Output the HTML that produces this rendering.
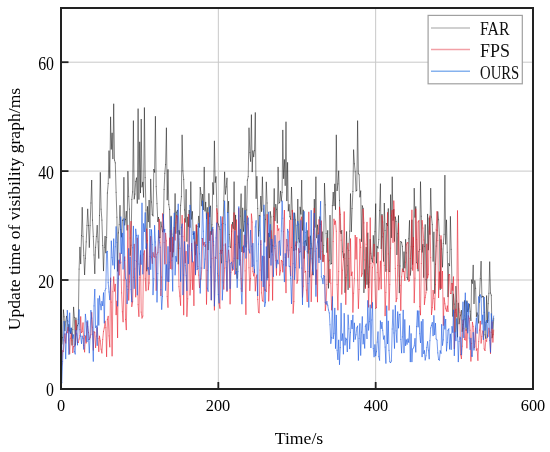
<!DOCTYPE html>
<html><head><meta charset="utf-8"><style>
html,body{margin:0;padding:0;background:#fff;width:550px;height:452px;overflow:hidden}
body{filter:blur(0.35px)}
body{position:relative;font-family:"Liberation Serif","Noto Serif CJK SC",serif;color:#000}
.t{position:absolute;white-space:nowrap;line-height:1}
.yl{font-size:18px;text-align:right;width:30px;transform:scaleX(0.88);transform-origin:100% 0}
.xl{font-size:17.6px;text-align:center;width:60px;transform:scaleX(0.93)}
.lg{font-size:19.5px;transform-origin:0 0;color:#111}
</style></head><body>
<svg width="550" height="452" viewBox="0 0 550 452" style="position:absolute;left:0;top:0">
<line x1="218.33" y1="8" x2="218.33" y2="389" stroke="#c8c8c8" stroke-width="1"/><line x1="375.67" y1="8" x2="375.67" y2="389" stroke="#c8c8c8" stroke-width="1"/><line x1="61" y1="280.00" x2="533" y2="280.00" stroke="#c8c8c8" stroke-width="1"/><line x1="61" y1="171.10" x2="533" y2="171.10" stroke="#c8c8c8" stroke-width="1"/><line x1="61" y1="62.20" x2="533" y2="62.20" stroke="#c8c8c8" stroke-width="1"/>
<g fill="none" stroke-linecap="round" stroke-width="0.85">
<path stroke="#000000" stroke-opacity="0.55" d="M61 320.4L61.8 344.1M62.6 337.6L63.4 310M64.1 316.8L64.9 330.6M65.7 321.9L66.5 316.3M67.3 320.4L68.1 330.9M68.9 324.6L69.7 330.9M70.4 333.3L71.2 328.3M72 345L72.8 329.7M73.6 307.3L74.4 317.6M75.2 345L75.9 318M76.7 330L77.5 325.5M78.3 323.6L79.1 269.1M79.9 247.3L80.7 263.7M81.5 235.6L82.2 207.6M83 236.4L83.8 255.5M84.6 274.6L85.4 258.2M86.2 241.9L87 225.5M87.7 209.2L88.5 225.5M89.3 247.3L90.1 225.5M90.9 203L91.7 180.4M92.5 220.1L93.3 236.4M94 255L94.8 273.5M95.6 247.3L96.4 236.4M97.2 225.5L98 241.9M98.8 258.2L99.5 215.5M100.3 172.7L101.1 209.2M101.9 220.1L102.7 245.4M103.5 270.7L104.3 247.3M105.1 236.4L105.8 252.8M106.6 237.6L107.4 193M108.2 183.6L109 151M109.8 178L110.6 117.2M111.3 149.1L112.1 133.2M112.9 158.7L113.7 104.1M114.5 160.1L115.3 162.9M116.1 192.3L116.9 217.2M117.6 271.1L118.4 232.9M119.2 224.7L120 205.6M120.8 229.5L121.6 236.9M122.4 220.2L123.1 220.2M123.9 177.6L124.7 225M125.5 219.6L126.3 211.5M127.1 230L127.9 171.6M128.7 196.3L129.4 209.1M130.2 255.4L131 245.2M131.8 199.5L132.6 191.9M133.4 121L134.2 198.9M134.9 194.1L135.7 181.6M136.5 178L137.3 203.2M138.1 109L138.9 199.2M139.7 142.2L140.5 192.7M141.2 119.4L142 186.9M142.8 182.3L143.6 197.1M144.4 107.9L145.2 177.7M146 210.1L146.7 270.9M147.5 206.7L148.3 221.7M149.1 200.4L149.9 227.4M150.7 179.3L151.5 202M152.3 214.7L153 215.9M153.8 169.4L154.6 172.2M155.4 116.6L156.2 186.7M157 203.7L157.8 221.5M158.5 217.4L159.3 237.8M160.1 237.5L160.9 222M161.7 226.8L162.5 231.8M163.3 229.9L164.1 189.4M164.8 173.3L165.6 164.4M166.4 128.1L167.2 199.8M168 169.7L168.8 204.5M169.6 209.5L170.3 251.6M171.1 216.2L171.9 234.1M172.7 256.9L173.5 244.9M174.3 227.6L175.1 193.8M175.9 233.3L176.6 212.2M177.4 210.3L178.2 263.9M179 230.6L179.8 234.4M180.6 205.3L181.4 196.7M182.1 135.2L182.9 170.8M183.7 179.6L184.5 209.9M185.3 222.1L186.1 189.6M186.9 241.3L187.7 217.2M188.4 226.4L189.2 210.4M190 227.3L190.8 182M191.6 219.1L192.4 211.7M193.2 234.6L193.9 233.3M194.7 243L195.5 254.8M196.3 225.4L197.1 245.7M197.9 226.6L198.7 216.3M199.5 227.2L200.2 187.4M201 193.9L201.8 205.8M202.6 194.4L203.4 209.6M204.2 167.3L205 211M205.7 202.3L206.5 218.7M207.3 207.7L208.1 249.7M208.9 193.7L209.7 216.7M210.5 206.1L211.3 234.4M212 224.8L212.8 182.8M213.6 194.3L214.4 141.2M215.2 182.4L216 176.8M216.8 206L217.5 222.8M218.3 224.1L219.1 226.5M219.9 229.5L220.7 250.7M221.5 262.9L222.3 250.6M223.1 223.5L223.8 200.8M224.6 172.2L225.4 194.1M226.2 186.9L227 178.2M227.8 212.6L228.6 201.5M229.3 234.5L230.1 247M230.9 247.6L231.7 231.2M232.5 222.5L233.3 228.4M234.1 182L234.9 229.8M235.6 215.3L236.4 269M237.2 278.3L238 235.9M238.8 242.8L239.6 248.2M240.4 216.1L241.1 194M241.9 251.7L242.7 208.2M243.5 231.3L244.3 221.7M245.1 186.2L245.9 247M246.7 210L247.4 180.1M248.2 176.6L249 128.1M249.8 152.4L250.6 161.3M251.4 115L252.2 171.7M252.9 150.9L253.7 156.7M254.5 150.7L255.3 112.8M256.1 198.4L256.9 176.6M257.7 208.6L258.5 236.2M259.2 215.6L260 215.8M260.8 196.4L261.6 211.4M262.4 177.1L263.2 209.1M264 215.1L264.7 242M265.5 219.3L266.3 182.2M267.1 203L267.9 277.7M268.7 233.3L269.5 257.7M270.3 211.7L271 217M271.8 252.2L272.6 245.2M273.4 216.4L274.2 188.8M275 220.7L275.8 204.5M276.5 209.3L277.3 223M278.1 167.3L278.9 203.3M279.7 202.5L280.5 191.3M281.3 201L282.1 192.3M282.8 130.3L283.6 178.4M284.4 159.8L285.2 185.4M286 122.1L286.8 200.7M287.6 162.7L288.3 210.9M289.1 204.6L289.9 216.6M290.7 219.4L291.5 187.4M292.3 211.1L293.1 219.6M293.9 250.6L294.6 213.2M295.4 219.9L296.2 249.9M297 242.2L297.8 199.4M298.6 238.3L299.4 242.2M300.1 207.2L300.9 214.1M301.7 180.4L302.5 230.1M303.3 210.2L304.1 258.2M304.9 241.7L305.7 240.6M306.4 245.4L307.2 230.7M308 253.2L308.8 237.1M309.6 277L310.4 236.1M311.2 243.8L311.9 248.7M312.7 274.7L313.5 229.3M314.3 199.5L315.1 227.2M315.9 177.1L316.7 237.8M317.5 225.1L318.2 233.1M319 257.5L319.8 216.9M320.6 224.3L321.4 241.3M322.2 232L323 261.3M323.7 245.5L324.5 183.5M325.3 204.9L326.1 233.5M326.9 252.3L327.7 230.7M328.5 288L329.3 260.2M330 215.5L330.8 264M331.6 263.6L332.4 205.7M333.2 192.4L334 205.7M334.8 184.2L335.5 209.4M336.3 135.2L337.1 190.6M337.9 183.9L338.7 171.1M339.5 200.3L340.3 231.4M341.1 233.6L341.8 230.5M342.6 251.8L343.4 257.8M344.2 253.8L345 292.4M345.8 277.7L346.6 231.8M347.3 265.8L348.1 289.5M348.9 250.6L349.7 231.1M350.5 193.9L351.3 231.5M352.1 208.5L352.9 191.6M353.6 150L354.4 163.8M355.2 171.8L356 191M356.8 190.3L357.6 121M358.4 173.8L359.1 174.5M359.9 196.9L360.7 191M361.5 241.4L362.3 205.8M363.1 208.5L363.9 292.5M364.7 269.8L365.4 287.3M366.2 247.5L367 284.3M367.8 233.1L368.6 287.7M369.4 267L370.2 239.5M370.9 253.3L371.7 258.4M372.5 262.1L373.3 235.7M374.1 256.2L374.9 231.7M375.7 204L376.5 262.9M377.2 246.5L378 248M378.8 239.6L379.6 210.7M380.4 184L381.2 248.6M382 214.5L382.7 236.9M383.5 261.2L384.3 203.4M385.1 230.5L385.9 271.4M386.7 223.4L387.5 225.7M388.3 208.8L389 271.3M389.8 271.4L390.6 195M391.4 237.5L392.2 177.1M393 220.3L393.8 209.5M394.5 241.2L395.3 217M396.1 221.4L396.9 254.6M397.7 233.8L398.5 215.8M399.3 292.7L400.1 266M400.8 241.4L401.6 242.5M402.4 246.3L403.2 271.6M404 252L404.8 267.9M405.6 239.6L406.3 252.9M407.1 277.5L407.9 279.7M408.7 238.8L409.5 220.7M410.3 275.2L411.1 268.2M411.9 220.1L412.6 264.3M413.4 246.5L414.2 188.5M415 217.2L415.8 206.8M416.6 262.6L417.4 263.7M418.1 270.9L418.9 251.6M419.7 249.5L420.5 182M421.3 216.2L422.1 252.1M422.9 244.5L423.7 277.3M424.4 246.3L425.2 224.8M426 279.4L426.8 290.2M427.6 214.3L428.4 249.8M429.2 218L429.9 234.3M430.7 188.5L431.5 217M432.3 224.7L433.1 261.2M433.9 232.2L434.7 293.3M435.5 264.2L436.2 246.1M437 230.6L437.8 211.9M438.6 219.8L439.4 235.2M440.2 289.5L441 239.8M441.7 249L442.5 266.9M443.3 243.5L444.1 234.3M444.9 175.5L445.7 244M446.5 220.2L447.3 252.3M448 296.7L448.8 263.6M449.6 265.7L450.4 216.7M451.2 249.3L452 283.8M452.8 316.2L453.5 294.2M454.3 304.1L455.1 331.9M455.9 286.5L456.7 301.1M457.5 336.9L458.3 303.2M459.1 323.8L459.8 319M460.6 315.1L461.4 310.5M462.2 331.4L463 324.6M463.8 319.7L464.6 300.7M465.3 319L466.1 330.3M466.9 301L467.7 311.5M468.5 309.1L469.3 304.2M470.1 311.3L470.9 320.6M471.6 280L472.4 283.3M473.2 265.3L474 303.6M474.8 280.8L475.6 288.3M476.4 316.4L477.1 312.9M477.9 315.2L478.7 323M479.5 295.5L480.3 278.5M481.1 261.5L481.9 297.3M482.7 296.3L483.4 296.6M484.2 312.3L485 334.8M485.8 338.5L486.6 295.9M487.4 322.5L488.2 303.7M488.9 293.3L489.7 262M490.5 293L491.3 295.2M492.1 337.8L492.9 334.4"/>
<path stroke="#000000" stroke-opacity="0.55" d="M61.8 344.1L62.6 337.6M63.4 310L64.1 316.8M64.9 330.6L65.7 321.9M66.5 316.3L67.3 320.4M68.1 330.9L68.9 324.6M69.7 330.9L70.4 333.3M71.2 328.3L72 345M72.8 329.7L73.6 307.3M74.4 317.6L75.2 345M75.9 318L76.7 330M77.5 325.5L78.3 323.6M79.1 269.1L79.9 247.3M80.7 263.7L81.5 235.6M82.2 207.6L83 236.4M83.8 255.5L84.6 274.6M85.4 258.2L86.2 241.9M87 225.5L87.7 209.2M88.5 225.5L89.3 247.3M90.1 225.5L90.9 203M91.7 180.4L92.5 220.1M93.3 236.4L94 255M94.8 273.5L95.6 247.3M96.4 236.4L97.2 225.5M98 241.9L98.8 258.2M99.5 215.5L100.3 172.7M101.1 209.2L101.9 220.1M102.7 245.4L103.5 270.7M104.3 247.3L105.1 236.4M105.8 252.8L106.6 237.6M107.4 193L108.2 183.6M109 151L109.8 178M110.6 117.2L111.3 149.1M112.1 133.2L112.9 158.7M113.7 104.1L114.5 160.1M115.3 162.9L116.1 192.3M116.9 217.2L117.6 271.1M118.4 232.9L119.2 224.7M120 205.6L120.8 229.5M121.6 236.9L122.4 220.2M123.1 220.2L123.9 177.6M124.7 225L125.5 219.6M126.3 211.5L127.1 230M127.9 171.6L128.7 196.3M129.4 209.1L130.2 255.4M131 245.2L131.8 199.5M132.6 191.9L133.4 121M134.2 198.9L134.9 194.1M135.7 181.6L136.5 178M137.3 203.2L138.1 109M138.9 199.2L139.7 142.2M140.5 192.7L141.2 119.4M142 186.9L142.8 182.3M143.6 197.1L144.4 107.9M145.2 177.7L146 210.1M146.7 270.9L147.5 206.7M148.3 221.7L149.1 200.4M149.9 227.4L150.7 179.3M151.5 202L152.3 214.7M153 215.9L153.8 169.4M154.6 172.2L155.4 116.6M156.2 186.7L157 203.7M157.8 221.5L158.5 217.4M159.3 237.8L160.1 237.5M160.9 222L161.7 226.8M162.5 231.8L163.3 229.9M164.1 189.4L164.8 173.3M165.6 164.4L166.4 128.1M167.2 199.8L168 169.7M168.8 204.5L169.6 209.5M170.3 251.6L171.1 216.2M171.9 234.1L172.7 256.9M173.5 244.9L174.3 227.6M175.1 193.8L175.9 233.3M176.6 212.2L177.4 210.3M178.2 263.9L179 230.6M179.8 234.4L180.6 205.3M181.4 196.7L182.1 135.2M182.9 170.8L183.7 179.6M184.5 209.9L185.3 222.1M186.1 189.6L186.9 241.3M187.7 217.2L188.4 226.4M189.2 210.4L190 227.3M190.8 182L191.6 219.1M192.4 211.7L193.2 234.6M193.9 233.3L194.7 243M195.5 254.8L196.3 225.4M197.1 245.7L197.9 226.6M198.7 216.3L199.5 227.2M200.2 187.4L201 193.9M201.8 205.8L202.6 194.4M203.4 209.6L204.2 167.3M205 211L205.7 202.3M206.5 218.7L207.3 207.7M208.1 249.7L208.9 193.7M209.7 216.7L210.5 206.1M211.3 234.4L212 224.8M212.8 182.8L213.6 194.3M214.4 141.2L215.2 182.4M216 176.8L216.8 206M217.5 222.8L218.3 224.1M219.1 226.5L219.9 229.5M220.7 250.7L221.5 262.9M222.3 250.6L223.1 223.5M223.8 200.8L224.6 172.2M225.4 194.1L226.2 186.9M227 178.2L227.8 212.6M228.6 201.5L229.3 234.5M230.1 247L230.9 247.6M231.7 231.2L232.5 222.5M233.3 228.4L234.1 182M234.9 229.8L235.6 215.3M236.4 269L237.2 278.3M238 235.9L238.8 242.8M239.6 248.2L240.4 216.1M241.1 194L241.9 251.7M242.7 208.2L243.5 231.3M244.3 221.7L245.1 186.2M245.9 247L246.7 210M247.4 180.1L248.2 176.6M249 128.1L249.8 152.4M250.6 161.3L251.4 115M252.2 171.7L252.9 150.9M253.7 156.7L254.5 150.7M255.3 112.8L256.1 198.4M256.9 176.6L257.7 208.6M258.5 236.2L259.2 215.6M260 215.8L260.8 196.4M261.6 211.4L262.4 177.1M263.2 209.1L264 215.1M264.7 242L265.5 219.3M266.3 182.2L267.1 203M267.9 277.7L268.7 233.3M269.5 257.7L270.3 211.7M271 217L271.8 252.2M272.6 245.2L273.4 216.4M274.2 188.8L275 220.7M275.8 204.5L276.5 209.3M277.3 223L278.1 167.3M278.9 203.3L279.7 202.5M280.5 191.3L281.3 201M282.1 192.3L282.8 130.3M283.6 178.4L284.4 159.8M285.2 185.4L286 122.1M286.8 200.7L287.6 162.7M288.3 210.9L289.1 204.6M289.9 216.6L290.7 219.4M291.5 187.4L292.3 211.1M293.1 219.6L293.9 250.6M294.6 213.2L295.4 219.9M296.2 249.9L297 242.2M297.8 199.4L298.6 238.3M299.4 242.2L300.1 207.2M300.9 214.1L301.7 180.4M302.5 230.1L303.3 210.2M304.1 258.2L304.9 241.7M305.7 240.6L306.4 245.4M307.2 230.7L308 253.2M308.8 237.1L309.6 277M310.4 236.1L311.2 243.8M311.9 248.7L312.7 274.7M313.5 229.3L314.3 199.5M315.1 227.2L315.9 177.1M316.7 237.8L317.5 225.1M318.2 233.1L319 257.5M319.8 216.9L320.6 224.3M321.4 241.3L322.2 232M323 261.3L323.7 245.5M324.5 183.5L325.3 204.9M326.1 233.5L326.9 252.3M327.7 230.7L328.5 288M329.3 260.2L330 215.5M330.8 264L331.6 263.6M332.4 205.7L333.2 192.4M334 205.7L334.8 184.2M335.5 209.4L336.3 135.2M337.1 190.6L337.9 183.9M338.7 171.1L339.5 200.3M340.3 231.4L341.1 233.6M341.8 230.5L342.6 251.8M343.4 257.8L344.2 253.8M345 292.4L345.8 277.7M346.6 231.8L347.3 265.8M348.1 289.5L348.9 250.6M349.7 231.1L350.5 193.9M351.3 231.5L352.1 208.5M352.9 191.6L353.6 150M354.4 163.8L355.2 171.8M356 191L356.8 190.3M357.6 121L358.4 173.8M359.1 174.5L359.9 196.9M360.7 191L361.5 241.4M362.3 205.8L363.1 208.5M363.9 292.5L364.7 269.8M365.4 287.3L366.2 247.5M367 284.3L367.8 233.1M368.6 287.7L369.4 267M370.2 239.5L370.9 253.3M371.7 258.4L372.5 262.1M373.3 235.7L374.1 256.2M374.9 231.7L375.7 204M376.5 262.9L377.2 246.5M378 248L378.8 239.6M379.6 210.7L380.4 184M381.2 248.6L382 214.5M382.7 236.9L383.5 261.2M384.3 203.4L385.1 230.5M385.9 271.4L386.7 223.4M387.5 225.7L388.3 208.8M389 271.3L389.8 271.4M390.6 195L391.4 237.5M392.2 177.1L393 220.3M393.8 209.5L394.5 241.2M395.3 217L396.1 221.4M396.9 254.6L397.7 233.8M398.5 215.8L399.3 292.7M400.1 266L400.8 241.4M401.6 242.5L402.4 246.3M403.2 271.6L404 252M404.8 267.9L405.6 239.6M406.3 252.9L407.1 277.5M407.9 279.7L408.7 238.8M409.5 220.7L410.3 275.2M411.1 268.2L411.9 220.1M412.6 264.3L413.4 246.5M414.2 188.5L415 217.2M415.8 206.8L416.6 262.6M417.4 263.7L418.1 270.9M418.9 251.6L419.7 249.5M420.5 182L421.3 216.2M422.1 252.1L422.9 244.5M423.7 277.3L424.4 246.3M425.2 224.8L426 279.4M426.8 290.2L427.6 214.3M428.4 249.8L429.2 218M429.9 234.3L430.7 188.5M431.5 217L432.3 224.7M433.1 261.2L433.9 232.2M434.7 293.3L435.5 264.2M436.2 246.1L437 230.6M437.8 211.9L438.6 219.8M439.4 235.2L440.2 289.5M441 239.8L441.7 249M442.5 266.9L443.3 243.5M444.1 234.3L444.9 175.5M445.7 244L446.5 220.2M447.3 252.3L448 296.7M448.8 263.6L449.6 265.7M450.4 216.7L451.2 249.3M452 283.8L452.8 316.2M453.5 294.2L454.3 304.1M455.1 331.9L455.9 286.5M456.7 301.1L457.5 336.9M458.3 303.2L459.1 323.8M459.8 319L460.6 315.1M461.4 310.5L462.2 331.4M463 324.6L463.8 319.7M464.6 300.7L465.3 319M466.1 330.3L466.9 301M467.7 311.5L468.5 309.1M469.3 304.2L470.1 311.3M470.9 320.6L471.6 280M472.4 283.3L473.2 265.3M474 303.6L474.8 280.8M475.6 288.3L476.4 316.4M477.1 312.9L477.9 315.2M478.7 323L479.5 295.5M480.3 278.5L481.1 261.5M481.9 297.3L482.7 296.3M483.4 296.6L484.2 312.3M485 334.8L485.8 338.5M486.6 295.9L487.4 322.5M488.2 303.7L488.9 293.3M489.7 262L490.5 293M491.3 295.2L492.1 337.8M492.9 334.4L493.7 318.2"/>
<path stroke="#e81a28" stroke-opacity="0.66" d="M61 372.6L61.8 363.9M62.6 350.8L63.4 351.5M64.1 340.9L64.9 333.9M65.7 343L66.5 331.9M67.3 332.8L68.1 327.4M68.9 340L69.7 353.8M70.4 338.4L71.2 333.1M72 340.8L72.8 352.6M73.6 346.5L74.4 346.2M75.2 343.8L75.9 320.5M76.7 333.6L77.5 342.4M78.3 342.5L79.1 339.1M79.9 335.5L80.7 316.8M81.5 332.6L82.2 331.9M83 322.9L83.8 345.5M84.6 351.9L85.4 336M86.2 343L87 322.2M87.7 326.7L88.5 332.4M89.3 339.6L90.1 337.6M90.9 334.4L91.7 312.6M92.5 327.2L93.3 350.1M94 331.5L94.8 332.6M95.6 347.6L96.4 336.1M97.2 327.8L98 338.4M98.8 351.5L99.5 336.2M100.3 340.9L101.1 349.2M101.9 353L102.7 339.6M103.5 331.5L104.3 327.9M105.1 321.2L105.8 327.7M106.6 356.5L107.4 319.5M108.2 316.3L109 335.9M109.8 346.9L110.6 278.1M111.3 302.1L112.1 355.9M112.9 291.7L113.7 276.9M114.5 291.1L115.3 284.3M116.1 314.7L116.9 301.2M117.6 337.6L118.4 260.6M119.2 275L120 253.2M120.8 262.3L121.6 292.9M122.4 311.8L123.1 321.8M123.9 280.2L124.7 256.9M125.5 319.4L126.3 329.7M127.1 286.3L127.9 225.3M128.7 300.1L129.4 281.9M130.2 238L131 221.5M131.8 306.5L132.6 301.8M133.4 277.2L134.2 244.3M134.9 268.9L135.7 296.9M136.5 261.3L137.3 238.2M138.1 304.7L138.9 316.4M139.7 277.7L140.5 255.1M141.2 312.1L142 318.1M142.8 316.1L143.6 254.1M144.4 250.8L145.2 278.3M146 290.8L146.7 229.1M147.5 240.7L148.3 289.8M149.1 283L149.9 256.4M150.7 236.5L151.5 257.2M152.3 263.4L153 252.6M153.8 256.3L154.6 257.3M155.4 247L156.2 290.4M157 254.2L157.8 252.5M158.5 236.8L159.3 219.3M160.1 242.7L160.9 295.6M161.7 277.1L162.5 213.8M163.3 218.8L164.1 242.4M164.8 263.9L165.6 233.3M166.4 240.9L167.2 296.6M168 307.3L168.8 269M169.6 238.1L170.3 268.6M171.1 230.3L171.9 269.1M172.7 237.3L173.5 251.9M174.3 227.8L175.1 240M175.9 222.9L176.6 215.5M177.4 216.4L178.2 248.3M179 286.7L179.8 296.1M180.6 305.3L181.4 236.7M182.1 215.5L182.9 236.7M183.7 314.8L184.5 218.8M185.3 262.8L186.1 251.5M186.9 316.4L187.7 298.8M188.4 214.5L189.2 216.1M190 295L190.8 280.5M191.6 243.4L192.4 289.5M193.2 261.9L193.9 305.5M194.7 241.9L195.5 274.8M196.3 224.7L197.1 247.8M197.9 266.5L198.7 275.1M199.5 287.6L200.2 279.3M201 279.1L201.8 268.1M202.6 238.4L203.4 245M204.2 242.4L205 246.6M205.7 244.8L206.5 304.2M207.3 270.3L208.1 212.8M208.9 223.2L209.7 240.5M210.5 231.6L211.3 299.8M212 258.7L212.8 229.5M213.6 245.2L214.4 310M215.2 257.2L216 258.3M216.8 208.7L217.5 213.5M218.3 275.8L219.1 303.3M219.9 308.3L220.7 250.2M221.5 253.5L222.3 217M223.1 281.1L223.8 289.1M224.6 268.1L225.4 243.9M226.2 267.8L227 291.4M227.8 262L228.6 250.2M229.3 260.9L230.1 303.9M230.9 272.4L231.7 224.7M232.5 270.3L233.3 261M234.1 212.9L234.9 274.4M235.6 244.5L236.4 220M237.2 258.6L238 258.8M238.8 208.6L239.6 246.2M240.4 260.1L241.1 278.6M241.9 291.5L242.7 247.1M243.5 252.5L244.3 235.2M245.1 270.9L245.9 314.4M246.7 241.8L247.4 216.1M248.2 224.2L249 267.8M249.8 290.5L250.6 278.5M251.4 214L252.2 222.1M252.9 271.5L253.7 275.9M254.5 269.6L255.3 290.9M256.1 277.9L256.9 275M257.7 299.4L258.5 312.3M259.2 312.8L260 270.1M260.8 240.6L261.6 292.9M262.4 300.7L263.2 301.5M264 256.6L264.7 290.2M265.5 289.9L266.3 291.5M267.1 214.6L267.9 240.1M268.7 301L269.5 285.1M270.3 244.2L271 230.7M271.8 241.9L272.6 300.1M273.4 245.8L274.2 207.8M275 248.4L275.8 260.7M276.5 275.1L277.3 225.3M278.1 230.4L278.9 228.9M279.7 275.2L280.5 270.7M281.3 260.3L282.1 261.2M282.8 271.9L283.6 231.5M284.4 210.4L285.2 257.5M286 292.7L286.8 239.4M287.6 245.8L288.3 257.4M289.1 250.1L289.9 220.3M290.7 275.7L291.5 247.4M292.3 210.3L293.1 313.2M293.9 301.6L294.6 249M295.4 245.6L296.2 241.7M297 283.3L297.8 280.4M298.6 248.6L299.4 252.4M300.1 251.9L300.9 219.8M301.7 217.1L302.5 297.1M303.3 286.2L304.1 246.4M304.9 272.1L305.7 271.3M306.4 290.1L307.2 301.6M308 271.5L308.8 212.2M309.6 249.2L310.4 248.5M311.2 301.5L311.9 275M312.7 263.2L313.5 233.6M314.3 208.4L315.1 239.8M315.9 284.4L316.7 270M317.5 301.8L318.2 233.8M319 219.7L319.8 229.2M320.6 259.4L321.4 221M322.2 251.5L323 261.7M323.7 254.9L324.5 255.6M325.3 310.6L326.1 303.5M326.9 284.5L327.7 238.3M328.5 261.3L329.3 282.5M330 269.3L330.8 283.2M331.6 309.9L332.4 300.1M333.2 241.5L334 219.2M334.8 224.4L335.5 221.1M336.3 231.2L337.1 284.7M337.9 309.9L338.7 271.6M339.5 207.2L340.3 214.4M341.1 240.2L341.8 294.1M342.6 270.2L343.4 259.8M344.2 211.9L345 258.3M345.8 304.4L346.6 275M347.3 248.2L348.1 243.3M348.9 258.7L349.7 287.4M350.5 238.9L351.3 275.6M352.1 272.1L352.9 312.2M353.6 293.2L354.4 278.2M355.2 235.4L356 259M356.8 237.5L357.6 280.1M358.4 308.4L359.1 289.5M359.9 239.2L360.7 247.3M361.5 276.4L362.3 273.8M363.1 209.2L363.9 222.9M364.7 259.9L365.4 288.5M366.2 244.2L367 222.3M367.8 273.9L368.6 307M369.4 282.2L370.2 218M370.9 263.5L371.7 307.9M372.5 267.7L373.3 262.7M374.1 244.4L374.9 279.5M375.7 308.5L376.5 307.4M377.2 272.5L378 252.5M378.8 289.8L379.6 278.1M380.4 261.2L381.2 288.8M382 215.8L382.7 222M383.5 233.8L384.3 265.4M385.1 315.7L385.9 292.4M386.7 269.7L387.5 212.7M388.3 253.9L389 310.1M389.8 284.6L390.6 248.2M391.4 215.8L392.2 210.3M393 242.4L393.8 201M394.5 217.7L395.3 268.5M396.1 301.7L396.9 298.4M397.7 265.6L398.5 223.3M399.3 276.1L400.1 285.4M400.8 310.4L401.6 276.9M402.4 269L403.2 271.6M404 271.6L404.8 280.5M405.6 262.2L406.3 245M407.1 242.8L407.9 242.8M408.7 281.2L409.5 280.8M410.3 258.5L411.1 246.8M411.9 210.2L412.6 270.2M413.4 237.5L414.2 302.7M415 278.2L415.8 209.1M416.6 239.6L417.4 268.5M418.1 221.9L418.9 220.6M419.7 306.7L420.5 314.8M421.3 263.4L422.1 220.5M422.9 228.1L423.7 240M424.4 304.5L425.2 297.6M426 292.7L426.8 244.2M427.6 278L428.4 274.3M429.2 231.3L429.9 216M430.7 257.7L431.5 314.5M432.3 307.6L433.1 290.4M433.9 298.4L434.7 309.9M435.5 284.5L436.2 229.8M437 211.6L437.8 240.5M438.6 297.6L439.4 272M440.2 287.9L441 235.8M441.7 288.4L442.5 271.4M443.3 325.3L444.1 297.8M444.9 303.8L445.7 308.8M446.5 311.2L447.3 306M448 311.6L448.8 274.9M449.6 274.5L450.4 293.5M451.2 293.4L452 283.4M452.8 290.3L453.5 276.9M454.3 348.6L455.1 312.4M455.9 309.2L456.7 316.8M457.5 210.8L458.3 280M459.1 308.9L459.8 312.3M460.6 354.7L461.4 358.6M462.2 346.2L463 320.3M463.8 328.4L464.6 339.5M465.3 340L466.1 330M466.9 347.9L467.7 328.4M468.5 315.8L469.3 318.5M470.1 330.3L470.9 361.1M471.6 343.4L472.4 322.3M473.2 326.5L474 347.9M474.8 347.1L475.6 327.9M476.4 350.3L477.1 348.8M477.9 360.4L478.7 341.6M479.5 330.1L480.3 321.3M481.1 343.1L481.9 336.5M482.7 331L483.4 331.7M484.2 349L485 350.6M485.8 339.9L486.6 341.3M487.4 335.1L488.2 336.2M488.9 328.2L489.7 331.8M490.5 353.4L491.3 332.4M492.1 321.9L492.9 342.1"/>
<path stroke="#e81a28" stroke-opacity="0.66" d="M61.8 363.9L62.6 350.8M63.4 351.5L64.1 340.9M64.9 333.9L65.7 343M66.5 331.9L67.3 332.8M68.1 327.4L68.9 340M69.7 353.8L70.4 338.4M71.2 333.1L72 340.8M72.8 352.6L73.6 346.5M74.4 346.2L75.2 343.8M75.9 320.5L76.7 333.6M77.5 342.4L78.3 342.5M79.1 339.1L79.9 335.5M80.7 316.8L81.5 332.6M82.2 331.9L83 322.9M83.8 345.5L84.6 351.9M85.4 336L86.2 343M87 322.2L87.7 326.7M88.5 332.4L89.3 339.6M90.1 337.6L90.9 334.4M91.7 312.6L92.5 327.2M93.3 350.1L94 331.5M94.8 332.6L95.6 347.6M96.4 336.1L97.2 327.8M98 338.4L98.8 351.5M99.5 336.2L100.3 340.9M101.1 349.2L101.9 353M102.7 339.6L103.5 331.5M104.3 327.9L105.1 321.2M105.8 327.7L106.6 356.5M107.4 319.5L108.2 316.3M109 335.9L109.8 346.9M110.6 278.1L111.3 302.1M112.1 355.9L112.9 291.7M113.7 276.9L114.5 291.1M115.3 284.3L116.1 314.7M116.9 301.2L117.6 337.6M118.4 260.6L119.2 275M120 253.2L120.8 262.3M121.6 292.9L122.4 311.8M123.1 321.8L123.9 280.2M124.7 256.9L125.5 319.4M126.3 329.7L127.1 286.3M127.9 225.3L128.7 300.1M129.4 281.9L130.2 238M131 221.5L131.8 306.5M132.6 301.8L133.4 277.2M134.2 244.3L134.9 268.9M135.7 296.9L136.5 261.3M137.3 238.2L138.1 304.7M138.9 316.4L139.7 277.7M140.5 255.1L141.2 312.1M142 318.1L142.8 316.1M143.6 254.1L144.4 250.8M145.2 278.3L146 290.8M146.7 229.1L147.5 240.7M148.3 289.8L149.1 283M149.9 256.4L150.7 236.5M151.5 257.2L152.3 263.4M153 252.6L153.8 256.3M154.6 257.3L155.4 247M156.2 290.4L157 254.2M157.8 252.5L158.5 236.8M159.3 219.3L160.1 242.7M160.9 295.6L161.7 277.1M162.5 213.8L163.3 218.8M164.1 242.4L164.8 263.9M165.6 233.3L166.4 240.9M167.2 296.6L168 307.3M168.8 269L169.6 238.1M170.3 268.6L171.1 230.3M171.9 269.1L172.7 237.3M173.5 251.9L174.3 227.8M175.1 240L175.9 222.9M176.6 215.5L177.4 216.4M178.2 248.3L179 286.7M179.8 296.1L180.6 305.3M181.4 236.7L182.1 215.5M182.9 236.7L183.7 314.8M184.5 218.8L185.3 262.8M186.1 251.5L186.9 316.4M187.7 298.8L188.4 214.5M189.2 216.1L190 295M190.8 280.5L191.6 243.4M192.4 289.5L193.2 261.9M193.9 305.5L194.7 241.9M195.5 274.8L196.3 224.7M197.1 247.8L197.9 266.5M198.7 275.1L199.5 287.6M200.2 279.3L201 279.1M201.8 268.1L202.6 238.4M203.4 245L204.2 242.4M205 246.6L205.7 244.8M206.5 304.2L207.3 270.3M208.1 212.8L208.9 223.2M209.7 240.5L210.5 231.6M211.3 299.8L212 258.7M212.8 229.5L213.6 245.2M214.4 310L215.2 257.2M216 258.3L216.8 208.7M217.5 213.5L218.3 275.8M219.1 303.3L219.9 308.3M220.7 250.2L221.5 253.5M222.3 217L223.1 281.1M223.8 289.1L224.6 268.1M225.4 243.9L226.2 267.8M227 291.4L227.8 262M228.6 250.2L229.3 260.9M230.1 303.9L230.9 272.4M231.7 224.7L232.5 270.3M233.3 261L234.1 212.9M234.9 274.4L235.6 244.5M236.4 220L237.2 258.6M238 258.8L238.8 208.6M239.6 246.2L240.4 260.1M241.1 278.6L241.9 291.5M242.7 247.1L243.5 252.5M244.3 235.2L245.1 270.9M245.9 314.4L246.7 241.8M247.4 216.1L248.2 224.2M249 267.8L249.8 290.5M250.6 278.5L251.4 214M252.2 222.1L252.9 271.5M253.7 275.9L254.5 269.6M255.3 290.9L256.1 277.9M256.9 275L257.7 299.4M258.5 312.3L259.2 312.8M260 270.1L260.8 240.6M261.6 292.9L262.4 300.7M263.2 301.5L264 256.6M264.7 290.2L265.5 289.9M266.3 291.5L267.1 214.6M267.9 240.1L268.7 301M269.5 285.1L270.3 244.2M271 230.7L271.8 241.9M272.6 300.1L273.4 245.8M274.2 207.8L275 248.4M275.8 260.7L276.5 275.1M277.3 225.3L278.1 230.4M278.9 228.9L279.7 275.2M280.5 270.7L281.3 260.3M282.1 261.2L282.8 271.9M283.6 231.5L284.4 210.4M285.2 257.5L286 292.7M286.8 239.4L287.6 245.8M288.3 257.4L289.1 250.1M289.9 220.3L290.7 275.7M291.5 247.4L292.3 210.3M293.1 313.2L293.9 301.6M294.6 249L295.4 245.6M296.2 241.7L297 283.3M297.8 280.4L298.6 248.6M299.4 252.4L300.1 251.9M300.9 219.8L301.7 217.1M302.5 297.1L303.3 286.2M304.1 246.4L304.9 272.1M305.7 271.3L306.4 290.1M307.2 301.6L308 271.5M308.8 212.2L309.6 249.2M310.4 248.5L311.2 301.5M311.9 275L312.7 263.2M313.5 233.6L314.3 208.4M315.1 239.8L315.9 284.4M316.7 270L317.5 301.8M318.2 233.8L319 219.7M319.8 229.2L320.6 259.4M321.4 221L322.2 251.5M323 261.7L323.7 254.9M324.5 255.6L325.3 310.6M326.1 303.5L326.9 284.5M327.7 238.3L328.5 261.3M329.3 282.5L330 269.3M330.8 283.2L331.6 309.9M332.4 300.1L333.2 241.5M334 219.2L334.8 224.4M335.5 221.1L336.3 231.2M337.1 284.7L337.9 309.9M338.7 271.6L339.5 207.2M340.3 214.4L341.1 240.2M341.8 294.1L342.6 270.2M343.4 259.8L344.2 211.9M345 258.3L345.8 304.4M346.6 275L347.3 248.2M348.1 243.3L348.9 258.7M349.7 287.4L350.5 238.9M351.3 275.6L352.1 272.1M352.9 312.2L353.6 293.2M354.4 278.2L355.2 235.4M356 259L356.8 237.5M357.6 280.1L358.4 308.4M359.1 289.5L359.9 239.2M360.7 247.3L361.5 276.4M362.3 273.8L363.1 209.2M363.9 222.9L364.7 259.9M365.4 288.5L366.2 244.2M367 222.3L367.8 273.9M368.6 307L369.4 282.2M370.2 218L370.9 263.5M371.7 307.9L372.5 267.7M373.3 262.7L374.1 244.4M374.9 279.5L375.7 308.5M376.5 307.4L377.2 272.5M378 252.5L378.8 289.8M379.6 278.1L380.4 261.2M381.2 288.8L382 215.8M382.7 222L383.5 233.8M384.3 265.4L385.1 315.7M385.9 292.4L386.7 269.7M387.5 212.7L388.3 253.9M389 310.1L389.8 284.6M390.6 248.2L391.4 215.8M392.2 210.3L393 242.4M393.8 201L394.5 217.7M395.3 268.5L396.1 301.7M396.9 298.4L397.7 265.6M398.5 223.3L399.3 276.1M400.1 285.4L400.8 310.4M401.6 276.9L402.4 269M403.2 271.6L404 271.6M404.8 280.5L405.6 262.2M406.3 245L407.1 242.8M407.9 242.8L408.7 281.2M409.5 280.8L410.3 258.5M411.1 246.8L411.9 210.2M412.6 270.2L413.4 237.5M414.2 302.7L415 278.2M415.8 209.1L416.6 239.6M417.4 268.5L418.1 221.9M418.9 220.6L419.7 306.7M420.5 314.8L421.3 263.4M422.1 220.5L422.9 228.1M423.7 240L424.4 304.5M425.2 297.6L426 292.7M426.8 244.2L427.6 278M428.4 274.3L429.2 231.3M429.9 216L430.7 257.7M431.5 314.5L432.3 307.6M433.1 290.4L433.9 298.4M434.7 309.9L435.5 284.5M436.2 229.8L437 211.6M437.8 240.5L438.6 297.6M439.4 272L440.2 287.9M441 235.8L441.7 288.4M442.5 271.4L443.3 325.3M444.1 297.8L444.9 303.8M445.7 308.8L446.5 311.2M447.3 306L448 311.6M448.8 274.9L449.6 274.5M450.4 293.5L451.2 293.4M452 283.4L452.8 290.3M453.5 276.9L454.3 348.6M455.1 312.4L455.9 309.2M456.7 316.8L457.5 210.8M458.3 280L459.1 308.9M459.8 312.3L460.6 354.7M461.4 358.6L462.2 346.2M463 320.3L463.8 328.4M464.6 339.5L465.3 340M466.1 330L466.9 347.9M467.7 328.4L468.5 315.8M469.3 318.5L470.1 330.3M470.9 361.1L471.6 343.4M472.4 322.3L473.2 326.5M474 347.9L474.8 347.1M475.6 327.9L476.4 350.3M477.1 348.8L477.9 360.4M478.7 341.6L479.5 330.1M480.3 321.3L481.1 343.1M481.9 336.5L482.7 331M483.4 331.7L484.2 349M485 350.6L485.8 339.9M486.6 341.3L487.4 335.1M488.2 336.2L488.9 328.2M489.7 331.8L490.5 353.4M491.3 332.4L492.1 321.9M492.9 342.1L493.7 330.1"/>
<path stroke="#1a58e0" stroke-opacity="0.7" d="M61 387.3L61.8 382.4M62.6 361.7L63.4 339.9M64.1 321.5L64.9 334M65.7 358.7L66.5 333.9M67.3 310.5L68.1 321.3M68.9 354.3L69.7 313.1M70.4 333.2L71.2 328.1M72 334L72.8 338.3M73.6 334.8L74.4 351.6M75.2 354L75.9 330.3M76.7 334.9L77.5 344.9M78.3 319.6L79.1 309.8M79.9 329.6L80.7 336.4M81.5 343.5L82.2 336.1M83 338.6L83.8 349.1M84.6 335.6L85.4 314.3M86.2 321.8L87 341.7M87.7 320.8L88.5 339.4M89.3 352.8L90.1 336M90.9 310.5L91.7 318.1M92.5 334.2L93.3 361.2M94 305.9L94.8 289.4M95.6 327.4L96.4 326M97.2 345.4L98 298.7M98.8 325.1L99.5 296M100.3 304.2L101.1 309.8M101.9 301.5L102.7 305.6M103.5 292.9L104.3 322.9M105.1 290.3L105.8 288.7M106.6 252L107.4 251.4M108.2 282.7L109 292M109.8 299.7L110.6 281.6M111.3 241.1L112.1 257.6M112.9 265L113.7 239M114.5 268.8L115.3 246.8M116.1 226.8L116.9 242.6M117.6 305.9L118.4 278.3M119.2 260L120 263.4M120.8 217L121.6 253.6M122.4 233.3L123.1 269M123.9 218.8L124.7 260.6M125.5 278.1L126.3 280.1M127.1 303.6L127.9 289.6M128.7 248.7L129.4 274.1M130.2 257.2L131 289.4M131.8 301.8L132.6 247.8M133.4 226.3L134.2 288.4M134.9 260.5L135.7 229.2M136.5 235.4L137.3 294.9M138.1 235.2L138.9 264M139.7 275L140.5 250.8M141.2 264.3L142 203.2M142.8 273.9L143.6 223.8M144.4 231.6L145.2 212.8M146 248.4L146.7 243.9M147.5 269L148.3 267.7M149.1 274.5L149.9 229.4M150.7 269.3L151.5 229.9M152.3 244.6L153 294.7M153.8 278.7L154.6 225.6M155.4 242L156.2 257M157 302L157.8 273.5M158.5 230.5L159.3 240.8M160.1 247.3L160.9 289.7M161.7 309.3L162.5 296.5M163.3 214.5L164.1 231.9M164.8 229.4L165.6 290.3M166.4 264.8L167.2 281.2M168 246.7L168.8 281.6M169.6 262.2L170.3 231.7M171.1 217.3L171.9 260.3M172.7 291L173.5 236.1M174.3 213.2L175.1 274.9M175.9 256.5L176.6 261.3M177.4 231.4L178.2 204.2M179 239L179.8 248.3M180.6 281.2L181.4 227.6M182.1 224.1L182.9 294.7M183.7 275L184.5 241.8M185.3 265.7L186.1 275.7M186.9 290.5L187.7 244.7M188.4 263.5L189.2 246.1M190 205.3L190.8 211.8M191.6 250.6L192.4 261.9M193.2 231.6L193.9 238.8M194.7 231.7L195.5 274.3M196.3 244.8L197.1 269.6M197.9 268.6L198.7 223.5M199.5 253.9L200.2 293.1M201 268L201.8 238.5M202.6 201.1L203.4 231.2M204.2 268.6L205 259.1M205.7 242.3L206.5 213.9M207.3 288.2L208.1 291.3M208.9 242.6L209.7 207.2M210.5 267L211.3 299.8M212 230.7L212.8 227.3M213.6 241.6L214.4 305.9M215.2 281.1L216 237.9M216.8 223.1L217.5 273.8M218.3 294.4L219.1 302.8M219.9 253.5L220.7 216.7M221.5 224.8L222.3 299.9M223.1 282.8L223.8 245.1M224.6 201.2L225.4 224.8M226.2 261.5L227 290.4M227.8 212.4L228.6 246.7M229.3 260L230.1 288.4M230.9 263.4L231.7 262.2M232.5 267.6L233.3 269.3M234.1 258.3L234.9 230.9M235.6 273.7L236.4 271.7M237.2 287.4L238 271.5M238.8 206.9L239.6 265.1M240.4 229.3L241.1 288.8M241.9 303.8L242.7 280.1M243.5 246L244.3 252M245.1 210.6L245.9 258.1M246.7 243.2L247.4 223.8M248.2 218L249 249.8M249.8 253L250.6 230.4M251.4 246.2L252.2 266.6M252.9 243.5L253.7 265.2M254.5 272.7L255.3 226.9M256.1 220.7L256.9 261M257.7 295.6L258.5 244.1M259.2 230.7L260 216.3M260.8 244.6L261.6 280.5M262.4 256.2L263.2 286.6M264 205.2L264.7 306.5M265.5 302.3L266.3 246.9M267.1 279.9L267.9 246M268.7 212.2L269.5 236.7M270.3 224.6L271 265.1M271.8 239.4L272.6 254.9M273.4 276.5L274.2 246.7M275 235.6L275.8 246M276.5 267.8L277.3 260.2M278.1 263.8L278.9 241.9M279.7 241L280.5 255.2M281.3 231L282.1 201.1M282.8 218.2L283.6 264.8M284.4 281.7L285.2 253.7M286 265.9L286.8 250.2M287.6 229.3L288.3 231.9M289.1 266.2L289.9 266.4M290.7 278.6L291.5 303.6M292.3 276.8L293.1 263.7M293.9 213L294.6 279.4M295.4 267.4L296.2 249.6M297 225.5L297.8 221.4M298.6 224.3L299.4 268M300.1 251.4L300.9 220.7M301.7 268.1L302.5 304.5M303.3 243L304.1 211.7M304.9 250L305.7 232.5M306.4 222.8L307.2 251.6M308 283.4L308.8 307.1M309.6 267.2L310.4 253.2M311.2 210.6L311.9 258.8M312.7 270.6L313.5 274.8M314.3 213.4L315.1 251.2M315.9 296.2L316.7 248.5M317.5 242L318.2 235M319 262.6L319.8 226.7M320.6 201.5L321.4 276.9M322.2 278.7L323 283.7M323.7 275.4L324.5 276.3M325.3 302.6L326.1 304.3M326.9 301.5L327.7 305.2M328.5 310L329.3 313M330 324.8L330.8 343.4M331.6 337.7L332.4 296.8M333.2 338.6L334 333.3M334.8 308.3L335.5 348.3M336.3 315.3L337.1 350.3M337.9 359.5L338.7 340.2M339.5 364.4L340.3 347.5M341.1 303.3L341.8 340.4M342.6 333.9L343.4 353.9M344.2 313.6L345 345M345.8 338.1L346.6 339.6M347.3 351.6L348.1 315.1M348.9 328.8L349.7 348.7M350.5 332.3L351.3 320.5M352.1 328.6L352.9 315.3M353.6 341.7L354.4 323.2M355.2 339.2L356 334.8M356.8 327.9L357.6 326.1M358.4 360.2L359.1 338.3M359.9 323.7L360.7 355.2M361.5 332.1L362.3 316.8M363.1 343.9L363.9 334.3M364.7 348.1L365.4 326.2M366.2 324.1L367 338.6M367.8 300.7L368.6 330.1M369.4 321.7L370.2 305.1M370.9 347.6L371.7 320M372.5 302.7L373.3 348.4M374.1 356.8L374.9 344.8M375.7 355.8L376.5 351.7M377.2 342.1L378 331.9M378.8 356.6L379.6 360.2M380.4 321L381.2 328.5M382 322.4L382.7 330.3M383.5 339.1L384.3 336M385.1 347.1L385.9 363.2M386.7 306.1L387.5 343.6M388.3 321.2L389 350.3M389.8 361.9L390.6 362.7M391.4 361L392.2 329M393 310L393.8 333M394.5 348.2L395.3 305.6M396.1 330.9L396.9 342.3M397.7 311.9L398.5 327.9M399.3 314.5L400.1 314.2M400.8 339.6L401.6 352.8M402.4 336.9L403.2 310.3M404 352.7L404.8 319.8M405.6 345.5L406.3 339.8M407.1 344.2L407.9 339M408.7 342.3L409.5 325.9M410.3 361.7L411.1 333.8M411.9 361.7L412.6 349.1M413.4 348L414.2 345.9M415 338.6L415.8 352M416.6 326.5L417.4 310.9M418.1 326.9L418.9 311M419.7 333.7L420.5 342.6M421.3 321.7L422.1 356.7M422.9 319.5L423.7 353.5M424.4 350.7L425.2 360M426 355.8L426.8 347.4M427.6 341.7L428.4 350.2M429.2 358.8L429.9 340.7M430.7 328L431.5 325.3M432.3 322.6L433.1 335.7M433.9 315.7L434.7 334.7M435.5 323.5L436.2 339M437 340L437.8 352.9M438.6 359.6L439.4 360.2M440.2 350.8L441 353.3M441.7 324.6L442.5 345.3M443.3 339.9L444.1 316.2M444.9 329L445.7 319.4M446.5 350.9L447.3 342.4M448 330.2L448.8 328.9M449.6 349L450.4 334.2M451.2 349.4L452 326.6M452.8 332.4L453.5 310.1M454.3 355.5L455.1 332.3M455.9 340.7L456.7 318.8M457.5 332.2L458.3 361.7M459.1 341.5L459.8 337.2M460.6 338L461.4 354.7M462.2 319.8L463 302.1M463.8 337.5L464.6 315.9M465.3 293.1L466.1 327.2M466.9 301.9L467.7 332.9M468.5 303.7L469.3 338.1M470.1 349.4L470.9 338.3M471.6 356.2L472.4 356.2M473.2 332.6L474 350M474.8 341.1L475.6 326.1M476.4 318L477.1 333.2M477.9 316.4L478.7 296.8M479.5 302.4L480.3 294.7M481.1 296.5L481.9 324M482.7 315.2L483.4 339.5M484.2 297.4L485 330.2M485.8 322.4L486.6 320.5M487.4 337.4L488.2 320.4M488.9 312.2L489.7 340.4M490.5 352.1L491.3 313.8M492.1 328.4L492.9 320.4"/>
<path stroke="#1a58e0" stroke-opacity="0.7" d="M61.8 382.4L62.6 361.7M63.4 339.9L64.1 321.5M64.9 334L65.7 358.7M66.5 333.9L67.3 310.5M68.1 321.3L68.9 354.3M69.7 313.1L70.4 333.2M71.2 328.1L72 334M72.8 338.3L73.6 334.8M74.4 351.6L75.2 354M75.9 330.3L76.7 334.9M77.5 344.9L78.3 319.6M79.1 309.8L79.9 329.6M80.7 336.4L81.5 343.5M82.2 336.1L83 338.6M83.8 349.1L84.6 335.6M85.4 314.3L86.2 321.8M87 341.7L87.7 320.8M88.5 339.4L89.3 352.8M90.1 336L90.9 310.5M91.7 318.1L92.5 334.2M93.3 361.2L94 305.9M94.8 289.4L95.6 327.4M96.4 326L97.2 345.4M98 298.7L98.8 325.1M99.5 296L100.3 304.2M101.1 309.8L101.9 301.5M102.7 305.6L103.5 292.9M104.3 322.9L105.1 290.3M105.8 288.7L106.6 252M107.4 251.4L108.2 282.7M109 292L109.8 299.7M110.6 281.6L111.3 241.1M112.1 257.6L112.9 265M113.7 239L114.5 268.8M115.3 246.8L116.1 226.8M116.9 242.6L117.6 305.9M118.4 278.3L119.2 260M120 263.4L120.8 217M121.6 253.6L122.4 233.3M123.1 269L123.9 218.8M124.7 260.6L125.5 278.1M126.3 280.1L127.1 303.6M127.9 289.6L128.7 248.7M129.4 274.1L130.2 257.2M131 289.4L131.8 301.8M132.6 247.8L133.4 226.3M134.2 288.4L134.9 260.5M135.7 229.2L136.5 235.4M137.3 294.9L138.1 235.2M138.9 264L139.7 275M140.5 250.8L141.2 264.3M142 203.2L142.8 273.9M143.6 223.8L144.4 231.6M145.2 212.8L146 248.4M146.7 243.9L147.5 269M148.3 267.7L149.1 274.5M149.9 229.4L150.7 269.3M151.5 229.9L152.3 244.6M153 294.7L153.8 278.7M154.6 225.6L155.4 242M156.2 257L157 302M157.8 273.5L158.5 230.5M159.3 240.8L160.1 247.3M160.9 289.7L161.7 309.3M162.5 296.5L163.3 214.5M164.1 231.9L164.8 229.4M165.6 290.3L166.4 264.8M167.2 281.2L168 246.7M168.8 281.6L169.6 262.2M170.3 231.7L171.1 217.3M171.9 260.3L172.7 291M173.5 236.1L174.3 213.2M175.1 274.9L175.9 256.5M176.6 261.3L177.4 231.4M178.2 204.2L179 239M179.8 248.3L180.6 281.2M181.4 227.6L182.1 224.1M182.9 294.7L183.7 275M184.5 241.8L185.3 265.7M186.1 275.7L186.9 290.5M187.7 244.7L188.4 263.5M189.2 246.1L190 205.3M190.8 211.8L191.6 250.6M192.4 261.9L193.2 231.6M193.9 238.8L194.7 231.7M195.5 274.3L196.3 244.8M197.1 269.6L197.9 268.6M198.7 223.5L199.5 253.9M200.2 293.1L201 268M201.8 238.5L202.6 201.1M203.4 231.2L204.2 268.6M205 259.1L205.7 242.3M206.5 213.9L207.3 288.2M208.1 291.3L208.9 242.6M209.7 207.2L210.5 267M211.3 299.8L212 230.7M212.8 227.3L213.6 241.6M214.4 305.9L215.2 281.1M216 237.9L216.8 223.1M217.5 273.8L218.3 294.4M219.1 302.8L219.9 253.5M220.7 216.7L221.5 224.8M222.3 299.9L223.1 282.8M223.8 245.1L224.6 201.2M225.4 224.8L226.2 261.5M227 290.4L227.8 212.4M228.6 246.7L229.3 260M230.1 288.4L230.9 263.4M231.7 262.2L232.5 267.6M233.3 269.3L234.1 258.3M234.9 230.9L235.6 273.7M236.4 271.7L237.2 287.4M238 271.5L238.8 206.9M239.6 265.1L240.4 229.3M241.1 288.8L241.9 303.8M242.7 280.1L243.5 246M244.3 252L245.1 210.6M245.9 258.1L246.7 243.2M247.4 223.8L248.2 218M249 249.8L249.8 253M250.6 230.4L251.4 246.2M252.2 266.6L252.9 243.5M253.7 265.2L254.5 272.7M255.3 226.9L256.1 220.7M256.9 261L257.7 295.6M258.5 244.1L259.2 230.7M260 216.3L260.8 244.6M261.6 280.5L262.4 256.2M263.2 286.6L264 205.2M264.7 306.5L265.5 302.3M266.3 246.9L267.1 279.9M267.9 246L268.7 212.2M269.5 236.7L270.3 224.6M271 265.1L271.8 239.4M272.6 254.9L273.4 276.5M274.2 246.7L275 235.6M275.8 246L276.5 267.8M277.3 260.2L278.1 263.8M278.9 241.9L279.7 241M280.5 255.2L281.3 231M282.1 201.1L282.8 218.2M283.6 264.8L284.4 281.7M285.2 253.7L286 265.9M286.8 250.2L287.6 229.3M288.3 231.9L289.1 266.2M289.9 266.4L290.7 278.6M291.5 303.6L292.3 276.8M293.1 263.7L293.9 213M294.6 279.4L295.4 267.4M296.2 249.6L297 225.5M297.8 221.4L298.6 224.3M299.4 268L300.1 251.4M300.9 220.7L301.7 268.1M302.5 304.5L303.3 243M304.1 211.7L304.9 250M305.7 232.5L306.4 222.8M307.2 251.6L308 283.4M308.8 307.1L309.6 267.2M310.4 253.2L311.2 210.6M311.9 258.8L312.7 270.6M313.5 274.8L314.3 213.4M315.1 251.2L315.9 296.2M316.7 248.5L317.5 242M318.2 235L319 262.6M319.8 226.7L320.6 201.5M321.4 276.9L322.2 278.7M323 283.7L323.7 275.4M324.5 276.3L325.3 302.6M326.1 304.3L326.9 301.5M327.7 305.2L328.5 310M329.3 313L330 324.8M330.8 343.4L331.6 337.7M332.4 296.8L333.2 338.6M334 333.3L334.8 308.3M335.5 348.3L336.3 315.3M337.1 350.3L337.9 359.5M338.7 340.2L339.5 364.4M340.3 347.5L341.1 303.3M341.8 340.4L342.6 333.9M343.4 353.9L344.2 313.6M345 345L345.8 338.1M346.6 339.6L347.3 351.6M348.1 315.1L348.9 328.8M349.7 348.7L350.5 332.3M351.3 320.5L352.1 328.6M352.9 315.3L353.6 341.7M354.4 323.2L355.2 339.2M356 334.8L356.8 327.9M357.6 326.1L358.4 360.2M359.1 338.3L359.9 323.7M360.7 355.2L361.5 332.1M362.3 316.8L363.1 343.9M363.9 334.3L364.7 348.1M365.4 326.2L366.2 324.1M367 338.6L367.8 300.7M368.6 330.1L369.4 321.7M370.2 305.1L370.9 347.6M371.7 320L372.5 302.7M373.3 348.4L374.1 356.8M374.9 344.8L375.7 355.8M376.5 351.7L377.2 342.1M378 331.9L378.8 356.6M379.6 360.2L380.4 321M381.2 328.5L382 322.4M382.7 330.3L383.5 339.1M384.3 336L385.1 347.1M385.9 363.2L386.7 306.1M387.5 343.6L388.3 321.2M389 350.3L389.8 361.9M390.6 362.7L391.4 361M392.2 329L393 310M393.8 333L394.5 348.2M395.3 305.6L396.1 330.9M396.9 342.3L397.7 311.9M398.5 327.9L399.3 314.5M400.1 314.2L400.8 339.6M401.6 352.8L402.4 336.9M403.2 310.3L404 352.7M404.8 319.8L405.6 345.5M406.3 339.8L407.1 344.2M407.9 339L408.7 342.3M409.5 325.9L410.3 361.7M411.1 333.8L411.9 361.7M412.6 349.1L413.4 348M414.2 345.9L415 338.6M415.8 352L416.6 326.5M417.4 310.9L418.1 326.9M418.9 311L419.7 333.7M420.5 342.6L421.3 321.7M422.1 356.7L422.9 319.5M423.7 353.5L424.4 350.7M425.2 360L426 355.8M426.8 347.4L427.6 341.7M428.4 350.2L429.2 358.8M429.9 340.7L430.7 328M431.5 325.3L432.3 322.6M433.1 335.7L433.9 315.7M434.7 334.7L435.5 323.5M436.2 339L437 340M437.8 352.9L438.6 359.6M439.4 360.2L440.2 350.8M441 353.3L441.7 324.6M442.5 345.3L443.3 339.9M444.1 316.2L444.9 329M445.7 319.4L446.5 350.9M447.3 342.4L448 330.2M448.8 328.9L449.6 349M450.4 334.2L451.2 349.4M452 326.6L452.8 332.4M453.5 310.1L454.3 355.5M455.1 332.3L455.9 340.7M456.7 318.8L457.5 332.2M458.3 361.7L459.1 341.5M459.8 337.2L460.6 338M461.4 354.7L462.2 319.8M463 302.1L463.8 337.5M464.6 315.9L465.3 293.1M466.1 327.2L466.9 301.9M467.7 332.9L468.5 303.7M469.3 338.1L470.1 349.4M470.9 338.3L471.6 356.2M472.4 356.2L473.2 332.6M474 350L474.8 341.1M475.6 326.1L476.4 318M477.1 333.2L477.9 316.4M478.7 296.8L479.5 302.4M480.3 294.7L481.1 296.5M481.9 324L482.7 315.2M483.4 339.5L484.2 297.4M485 330.2L485.8 322.4M486.6 320.5L487.4 337.4M488.2 320.4L488.9 312.2M489.7 340.4L490.5 352.1M491.3 313.8L492.1 328.4M492.9 320.4L493.7 316"/>
</g>
<line x1="218.33" y1="389" x2="218.33" y2="382" stroke="#222" stroke-width="1.8"/><line x1="375.67" y1="389" x2="375.67" y2="382" stroke="#222" stroke-width="1.8"/><line x1="61" y1="280.00" x2="68.5" y2="280.00" stroke="#222" stroke-width="1.8"/><line x1="61" y1="171.10" x2="68.5" y2="171.10" stroke="#222" stroke-width="1.8"/><line x1="61" y1="62.20" x2="68.5" y2="62.20" stroke="#222" stroke-width="1.8"/>
<rect x="61" y="8" width="472" height="381" fill="none" stroke="#222" stroke-width="2"/>
<rect x="428.1" y="15.4" width="94.2" height="68.4" fill="#fff" stroke="#a0a0a0" stroke-width="1.2"/>
<line x1="431" y1="28" x2="470" y2="28" stroke="#c0c0c0" stroke-width="1.6"/>
<line x1="431" y1="49.5" x2="470" y2="49.5" stroke="#f2a0a6" stroke-width="1.6"/>
<line x1="431" y1="71.3" x2="470" y2="71.3" stroke="#86b2ee" stroke-width="1.6"/>
</svg>
<div class="t yl" style="left:24.1px;top:54.7px">60</div>
<div class="t yl" style="left:24.1px;top:163.6px">40</div>
<div class="t yl" style="left:24.1px;top:272.5px">20</div>
<div class="t yl" style="left:24.1px;top:381.4px">0</div>
<div class="t xl" style="left:31.0px;top:397px">0</div>
<div class="t xl" style="left:188.3px;top:397px">200</div>
<div class="t xl" style="left:345.7px;top:397px">400</div>
<div class="t xl" style="left:503.0px;top:397px">600</div>
<div class="t" style="left:299px;top:429.5px;font-size:17.7px;transform:translateX(-50%)">Time/s</div>
<div class="t" style="left:14.8px;top:209px;font-size:17.6px;transform:translate(-50%,-50%) rotate(-90deg);transform-origin:center">Update time of visibility graph/ms</div>
<div class="t lg" style="left:479.6px;top:18.8px;transform:scaleX(0.81)">FAR</div>
<div class="t lg" style="left:479.6px;top:40.8px;transform:scaleX(0.92)">FPS</div>
<div class="t lg" style="left:479.6px;top:62.8px;transform:scaleX(0.755)">OURS</div>
</body></html>
